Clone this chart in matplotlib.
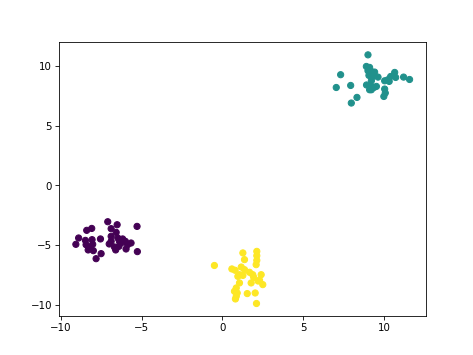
import matplotlib
matplotlib.use("Agg")
import matplotlib.pyplot as plt
import numpy as np

purple_x = [-9.06, -8.89, -8.39, -8.08, -8.47, -8.43, -8.27, -8.06, -8.02, -7.98, -7.81, -7.50, -7.54,
            -7.09, -6.51, -6.88, -6.57, -6.88, -6.88, -6.68, -6.47, -6.37, -6.17, -6.26, -6.00, -5.86,
            -5.65, -5.96, -5.28, -5.26, -7.00, -6.60, -8.30, -6.40]
purple_y = [-4.93, -4.40, -3.76, -3.60, -4.60, -4.96, -5.15, -4.54, -4.93, -5.46, -6.13, -5.71, -4.48,
            -3.04, -3.29, -3.62, -3.93, -4.26, -4.68, -5.15, -4.40, -4.68, -4.48, -4.82, -4.68, -4.96,
            -4.82, -5.32, -3.43, -5.54, -4.90, -5.40, -5.40, -5.10]

yellow_x = [1.26, 2.12, 2.12, 1.36, 2.12, 2.08, -0.50, 0.58, 0.78, 1.16, 1.36, 1.67, 1.87, 2.39, 1.05,
            0.95, 1.26, 2.29, 2.49, 1.77, 1.05, 0.85, 0.74, 0.91, 1.53, 2.02, 2.10, 0.85, 2.20, 1.93, 0.80]
yellow_y = [-5.65, -5.52, -5.88, -6.21, -6.27, -6.63, -6.70, -6.99, -7.10, -6.83, -7.05, -7.27, -7.47,
            -7.47, -7.47, -7.61, -7.53, -7.94, -8.30, -8.16, -8.16, -8.58, -8.86, -9.00, -9.05, -9.00,
            -9.88, -9.28, -8.00, -7.70, -9.50]

teal_x = [8.99, 8.89, 9.09, 8.99, 9.20, 9.40, 9.05, 9.30, 9.61, 9.20, 9.15, 9.09, 9.36, 9.51, 10.02,
          10.22, 10.39, 10.64, 10.70, 11.19, 11.56, 10.02, 10.06, 9.97, 7.30, 7.03, 7.92, 8.31, 7.96,
          8.90, 9.20, 10.30]
teal_y = [10.92, 9.95, 9.87, 9.59, 9.53, 9.48, 9.20, 9.11, 9.06, 8.75, 8.36, 8.00, 8.19, 8.28, 8.75,
          8.84, 9.11, 9.45, 9.03, 9.06, 8.86, 8.06, 7.73, 7.44, 9.26, 8.19, 8.36, 7.36, 6.89,
          8.40, 8.00, 8.70]

x = np.array(purple_x + teal_x + yellow_x)
y = np.array(purple_y + teal_y + yellow_y)
labels = np.array([0] * len(purple_x) + [1] * len(teal_x) + [2] * len(yellow_x))

fig, ax = plt.subplots(figsize=(6.4, 4.8), dpi=74)
ax.scatter(x, y, c=labels, cmap="viridis")
ax.set_xlim(-10.09, 12.59)
ax.set_ylim(-10.92, 11.96)
fig.savefig("out.png", dpi=74)
